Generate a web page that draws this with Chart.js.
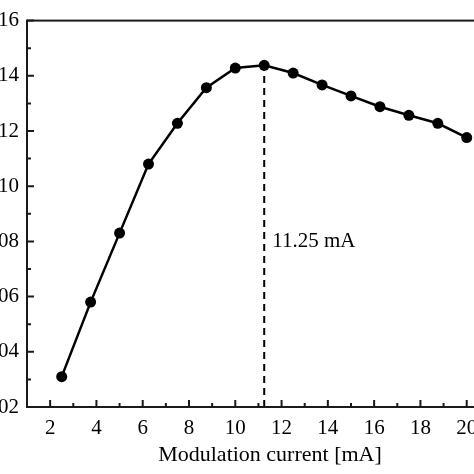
<!DOCTYPE html>
<html>
<head>
<meta charset="utf-8">
<script src="https://cdn.jsdelivr.net/npm/chart.js@4.4.1/dist/chart.umd.min.js"></script>
<style>
  html, body { margin: 0; padding: 0; background: #fff; overflow: hidden; }
  #wrap { position: relative; width: 474px; height: 474px; overflow: hidden; }
  #plot { position: absolute; left: -60px; top: 0; }
</style>
</head>
<body>
<div id="wrap"><canvas id="plot" width="600" height="474"></canvas></div>
<script>
// modulation current (mA) and measured value
const currents = [2.5, 3.75, 5, 6.25, 7.5, 8.75, 10, 11.25, 12.5, 13.75, 15, 16.25, 17.5, 18.75, 20];
const values = [0.031, 0.058, 0.083, 0.108, 0.1228, 0.1357, 0.1428, 0.1438, 0.141, 0.1367, 0.1327, 0.1288, 0.1257, 0.1228, 0.1176];
const xTicks = [2, 4, 6, 8, 10, 12, 14, 16, 18, 20];
const yTicks = [0.02, 0.04, 0.06, 0.08, 0.10, 0.12, 0.14, 0.16];
const peakCurrent = 11.25;
const peakText = '11.25 mA';
const xTitle = 'Modulation current [mA]';

const serif = 'Liberation Serif';
const ink = '#000';

const points = currents.map((c, i) => ({x: c, y: values[i]}));
const peakY = values[currents.indexOf(peakCurrent)];

// frame, inward ticks and peak label
const decor = {
  id: 'decor',
  afterDatasetsDraw(chart) {
    const {ctx, chartArea: a, scales: {x, y}} = chart;
    ctx.save();
    ctx.strokeStyle = '#1a1a1a';
    ctx.lineWidth = 2;
    ctx.strokeRect(a.left, a.top, a.right - a.left, a.bottom - a.top);
    ctx.beginPath();
    for (let v = 1; v <= 22; v++) {
      const px = x.getPixelForValue(v);
      const len = v % 2 === 0 ? 7 : 4;
      ctx.moveTo(px, a.bottom);
      ctx.lineTo(px, a.bottom - len);
    }
    for (let k = 2; k <= 16; k++) {
      const py = y.getPixelForValue(k / 100);
      const len = k % 2 === 0 ? 7 : 4;
      ctx.moveTo(a.left, py);
      ctx.lineTo(a.left + len, py);
    }
    ctx.stroke();
    ctx.fillStyle = ink;
    ctx.font = '21px "' + serif + '"';
    ctx.textBaseline = 'alphabetic';
    ctx.fillText(peakText, x.getPixelForValue(peakCurrent) + 8, y.getPixelForValue(0.078));
    ctx.restore();
  }
};

new Chart(document.getElementById('plot'), {
  type: 'line',
  data: {
    datasets: [
      {
        data: points,
        borderColor: ink,
        backgroundColor: ink,
        borderWidth: 2.5,
        pointRadius: 5.5,
        pointBackgroundColor: '#000',
        pointBorderWidth: 0,
        tension: 0
      },
      {
        data: [{x: peakCurrent, y: 0.02}, {x: peakCurrent, y: peakY}],
        borderColor: ink,
        borderWidth: 2,
        borderDash: [7, 5],
        pointRadius: 0
      }
    ]
  },
  options: {
    responsive: false,
    animation: false,
    devicePixelRatio: 1,
    layout: {padding: {top: 17, right: 27, left: 0, bottom: 0}},
    plugins: {legend: {display: false}, tooltip: {enabled: false}},
    scales: {
      x: {
        type: 'linear',
        min: 1,
        max: 22,
        grid: {display: false, drawTicks: false},
        border: {display: false},
        afterBuildTicks: s => { s.ticks = xTicks.map(v => ({value: v})); },
        afterFit: s => { s.height = 67; },
        ticks: {
          color: ink,
          padding: 9,
          maxRotation: 0,
          font: {family: serif, size: 21},
          callback: v => String(v)
        },
        title: {
          display: true,
          text: xTitle,
          color: ink,
          font: {family: serif, size: 22},
          padding: {top: 0, bottom: 6}
        }
      },
      y: {
        min: 0.02,
        max: 0.16,
        grid: {display: false, drawTicks: false},
        border: {display: false},
        afterBuildTicks: s => { s.ticks = yTicks.map(v => ({value: v})); },
        afterFit: s => { s.width = 87; },
        ticks: {
          color: ink,
          padding: 8,
          font: {family: serif, size: 21},
          callback: v => v.toFixed(2)
        }
      }
    }
  },
  plugins: [decor]
});
</script>
</body>
</html>
